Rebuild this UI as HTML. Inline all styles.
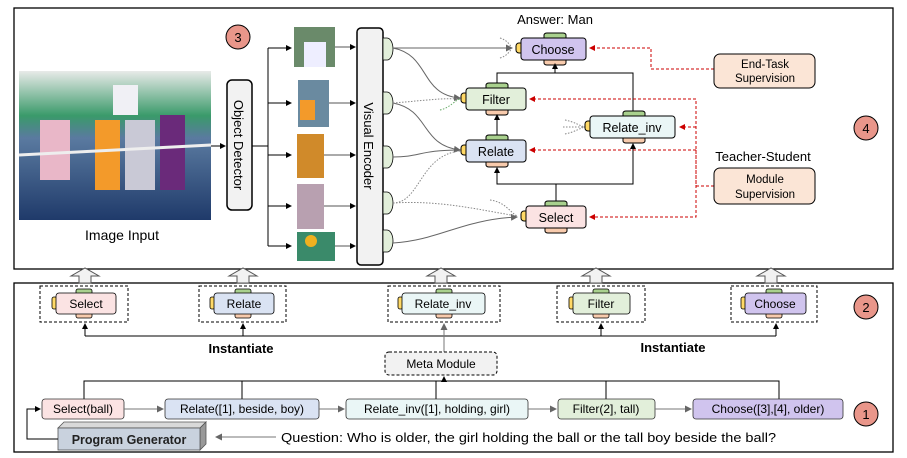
<!DOCTYPE html>
<html><head><meta charset="utf-8"><style>
html,body{margin:0;padding:0;background:#fff}
svg{display:block;font-family:"Liberation Sans",sans-serif}
</style></head><body>
<svg width="907" height="458" viewBox="0 0 907 458" xmlns="http://www.w3.org/2000/svg">
<defs>
<marker id="ab" markerWidth="6" markerHeight="6" refX="5" refY="3" orient="auto" markerUnits="userSpaceOnUse"><path d="M0,0 L6,3 L0,6z" fill="#000"/></marker>
<marker id="ag" markerWidth="7" markerHeight="7" refX="6" refY="3.5" orient="auto" markerUnits="userSpaceOnUse"><path d="M0,0 L7,3.5 L0,7z" fill="#666"/></marker>
<marker id="ar" markerWidth="6" markerHeight="6" refX="5" refY="3" orient="auto" markerUnits="userSpaceOnUse"><path d="M0,0 L6,3 L0,6z" fill="#c00"/></marker>
<linearGradient id="img" x1="0" y1="0" x2="0" y2="1"><stop offset="0" stop-color="#e8eae8"/><stop offset="0.3" stop-color="#3a9a6a"/><stop offset="0.45" stop-color="#5a7aa0"/><stop offset="1" stop-color="#1f3a6a"/></linearGradient>
</defs>

<rect x="14" y="8" width="879" height="261" fill="none" stroke="#000" stroke-width="1.3"/>
<rect x="14" y="283" width="879" height="169" fill="none" stroke="#000" stroke-width="1.3"/>

<rect x="19" y="71" width="192" height="149" fill="url(#img)"/>
<rect x="40" y="120" width="30" height="60" fill="#e9b7c8"/>
<rect x="95" y="120" width="25" height="70" fill="#f39a2a"/>
<rect x="125" y="120" width="30" height="70" fill="#c9c9d6"/>
<rect x="160" y="115" width="25" height="75" fill="#6a2a7a"/>
<rect x="113" y="85" width="25" height="30" fill="#f0f0f5"/>
<line x1="19" y1="155" x2="211" y2="145" stroke="#eee" stroke-width="3"/>
<text x="122" y="240" font-size="14" text-anchor="middle">Image Input</text>
<line x1="211" y1="146" x2="225" y2="146" stroke="#000" marker-end="url(#ab)"/>

<rect x="227" y="80" width="25" height="130" rx="5" fill="#f2f2f2" stroke="#000" stroke-width="1.5"/>
<text transform="translate(234,145) rotate(90)" font-size="13" text-anchor="middle">Object Detector</text>
<line x1="252" y1="146" x2="268" y2="146" stroke="#000"/>
<line x1="268" y1="48" x2="268" y2="246" stroke="#000"/>
<g stroke="#000">
<line x1="268" y1="48" x2="291" y2="48" marker-end="url(#ab)"/>
<line x1="268" y1="103" x2="291" y2="103" marker-end="url(#ab)"/>
<line x1="268" y1="155" x2="291" y2="155" marker-end="url(#ab)"/>
<line x1="268" y1="206" x2="291" y2="206" marker-end="url(#ab)"/>
<line x1="268" y1="246" x2="291" y2="246" marker-end="url(#ab)"/>
</g>
<circle cx="238" cy="37" r="12" fill="#e9968a" stroke="#000"/>
<text x="238" y="42" font-size="13" text-anchor="middle">3</text>

<rect x="294" y="27" width="41" height="40" fill="#6a8a6a"/><rect x="304" y="42" width="22" height="25" fill="#eef"/>
<rect x="298" y="80" width="31" height="47" fill="#6a8aa0"/><rect x="300" y="100" width="15" height="20" fill="#f39a2a"/>
<rect x="297" y="134" width="27" height="44" fill="#d08a2a"/>
<rect x="297" y="184" width="27" height="45" fill="#b8a0b0"/>
<rect x="297" y="232" width="38" height="29" fill="#3a8a6a"/><circle cx="311" cy="241" r="6" fill="#f0b020"/>
<g stroke="#555">
<line x1="335" y1="47" x2="355" y2="47" marker-end="url(#ab)"/>
<line x1="329" y1="103" x2="355" y2="103" marker-end="url(#ab)"/>
<line x1="324" y1="155" x2="355" y2="155" marker-end="url(#ab)"/>
<line x1="324" y1="206" x2="355" y2="206" marker-end="url(#ab)"/>
<line x1="335" y1="246" x2="355" y2="246" marker-end="url(#ab)"/>
</g>

<rect x="357" y="28" width="26" height="237" rx="4" fill="#f2f2f2" stroke="#000" stroke-width="1.5"/>
<text transform="translate(364,146) rotate(90)" font-size="13" text-anchor="middle">Visual Encoder</text>
<g fill="#e2efda" stroke="#000" stroke-width="0.8">
<path d="M383,38 h4 a6,11 0 0 1 0,22 h-4z"/>
<path d="M383,92 h4 a6,11 0 0 1 0,22 h-4z"/>
<path d="M383,146 h4 a6,11 0 0 1 0,22 h-4z"/>
<path d="M383,192 h4 a6,11 0 0 1 0,22 h-4z"/>
<path d="M383,230 h4 a6,11 0 0 1 0,22 h-4z"/>
</g>
<g fill="none" stroke="#666" stroke-width="1">
<path d="M393,48 L512,48" marker-end="url(#ag)"/>
<path d="M393,48 C430,55 420,95 460,98" marker-end="url(#ag)"/>
<path d="M393,103 C430,110 420,145 460,150" marker-end="url(#ag)"/>
<path d="M393,157 C420,157 420,150 460,150"/>
<path d="M393,243 C440,240 460,220 517,217" marker-end="url(#ag)"/>
</g>
<g fill="none" stroke="#888" stroke-width="1" stroke-dasharray="1.5,1.5">
<path d="M393,103 C430,100 440,98 460,99"/>
<path d="M393,203 C420,203 420,155 460,151"/>
<path d="M393,203 C440,200 480,210 517,216"/>
<path d="M440,110 C450,108 455,100 460,99" stroke="#6a6"/>
<path d="M490,200 C505,202 510,212 517,216"/>
<path d="M500,38 C507,40 510,45 512,48"/><path d="M500,58 C507,56 510,51 512,48"/>
<path d="M565,120 C575,122 580,126 585,127"/><path d="M565,134 C575,132 580,128 585,127"/><path d="M563,127 L585,127"/>
</g>

<g stroke="#000" stroke-width="1">
<path d="M544,38 v-3 a3,2 0 0 1 3,-2 h16 a3,2 0 0 1 3,2 v3z" fill="#a9d18e"/>
<path d="M544,60 v3 a3,2 0 0 0 3,2 h16 a3,2 0 0 0 3,-2 v-3z" fill="#f8cbad"/>
<path d="M521,43 h-2 a3,3 0 0 0 -3,3 v4 a3,3 0 0 0 3,3 h2z" fill="#ffd966"/>
<rect x="521" y="38" width="65" height="22" rx="3" fill="#d0c4ee"/>
<path d="M486,88 v-3 a3,2 0 0 1 3,-2 h16 a3,2 0 0 1 3,2 v3z" fill="#a9d18e"/>
<path d="M486,110 v3 a3,2 0 0 0 3,2 h16 a3,2 0 0 0 3,-2 v-3z" fill="#f8cbad"/>
<path d="M466,93 h-2 a3,3 0 0 0 -3,3 v4 a3,3 0 0 0 3,3 h2z" fill="#ffd966"/>
<rect x="466" y="88" width="60" height="22" rx="3" fill="#e2efda"/>
<path d="M486,140 v-3 a3,2 0 0 1 3,-2 h16 a3,2 0 0 1 3,2 v3z" fill="#a9d18e"/>
<path d="M486,162 v3 a3,2 0 0 0 3,2 h16 a3,2 0 0 0 3,-2 v-3z" fill="#f8cbad"/>
<path d="M466,145 h-2 a3,3 0 0 0 -3,3 v4 a3,3 0 0 0 3,3 h2z" fill="#ffd966"/>
<rect x="466" y="140" width="60" height="22" rx="3" fill="#dae3f3"/>
<path d="M545,206 v-3 a3,2 0 0 1 3,-2 h16 a3,2 0 0 1 3,2 v3z" fill="#a9d18e"/>
<path d="M545,228 v3 a3,2 0 0 0 3,2 h16 a3,2 0 0 0 3,-2 v-3z" fill="#f8cbad"/>
<path d="M526,211 h-2 a3,3 0 0 0 -3,3 v4 a3,3 0 0 0 3,3 h2z" fill="#ffd966"/>
<rect x="526" y="206" width="60" height="22" rx="3" fill="#fbe3e3"/>
<path d="M623,116 v-3 a3,2 0 0 1 3,-2 h16 a3,2 0 0 1 3,2 v3z" fill="#a9d18e"/>
<path d="M623,138 v3 a3,2 0 0 0 3,2 h16 a3,2 0 0 0 3,-2 v-3z" fill="#f8cbad"/>
<path d="M590,121 h-2 a3,3 0 0 0 -3,3 v4 a3,3 0 0 0 3,3 h2z" fill="#ffd966"/>
<rect x="590" y="116" width="85" height="22" rx="3" fill="#eaf6f6"/>
</g>
<g font-size="12.5" text-anchor="middle">
<text x="553" y="54">Choose</text>
<text x="496" y="104">Filter</text>
<text x="496" y="156">Relate</text>
<text x="556" y="222">Select</text>
<text x="632" y="132">Relate_inv</text>
</g>
<text x="555" y="24" font-size="13" text-anchor="middle">Answer: Man</text>

<g fill="none" stroke="#000" stroke-width="1">
<path d="M497,83 V73 H633 V111"/>
<line x1="555" y1="73" x2="555" y2="64" marker-end="url(#ab)"/>
<line x1="497" y1="135" x2="497" y2="115" marker-end="url(#ab)"/>
<path d="M556,201 V184 H497 V168" marker-end="url(#ab)"/>
<path d="M556,184 H633 V144" marker-end="url(#ab)"/>
</g>

<g fill="none" stroke="#c00" stroke-width="1" stroke-dasharray="3,2">
<path d="M714,69 H651 V48 H590" marker-end="url(#ar)"/>
<path d="M714,186 H696 V99 H530" marker-end="url(#ar)"/>
<path d="M696,127 H680" marker-end="url(#ar)"/>
<path d="M696,150 H530" marker-end="url(#ar)"/>
<path d="M696,150 V217 H590" marker-end="url(#ar)"/>
</g>
<rect x="714" y="54" width="101" height="34" rx="6" fill="#fbe5d6" stroke="#000"/>
<text x="765" y="68" font-size="11.5" text-anchor="middle">End-Task</text>
<text x="765" y="82" font-size="11.5" text-anchor="middle">Supervision</text>
<text x="763" y="161" font-size="13" text-anchor="middle">Teacher-Student</text>
<rect x="714" y="168" width="101" height="36" rx="6" fill="#fbe5d6" stroke="#000"/>
<text x="765" y="183" font-size="11.5" text-anchor="middle">Module</text>
<text x="765" y="198" font-size="11.5" text-anchor="middle">Supervision</text>
<circle cx="866" cy="128" r="12" fill="#e9968a" stroke="#000"/>
<text x="866" y="133" font-size="13" text-anchor="middle">4</text>

<g fill="#f2f2f2" stroke="#555" stroke-width="1">
<path d="M79,283 V276 H71 L85,268 L99,276 H91 V283z"/>
<path d="M237,283 V276 H229 L243,268 L257,276 H249 V283z"/>
<path d="M435,283 V276 H427 L441,268 L455,276 H447 V283z"/>
<path d="M590,283 V276 H582 L596,268 L610,276 H602 V283z"/>
<path d="M765,283 V276 H757 L771,268 L785,276 H777 V283z"/>
</g>

<g fill="none" stroke="#000" stroke-dasharray="3,2">
<rect x="40" y="286" width="88" height="36"/>
<rect x="199" y="286" width="87" height="36"/>
<rect x="388" y="286" width="112" height="36"/>
<rect x="557" y="286" width="88" height="36"/>
<rect x="731" y="286" width="86" height="36"/>
</g>
<g stroke="#000" stroke-width="0.8">
<rect x="76" y="289" width="16" height="6" rx="2" fill="#a9d18e"/><rect x="76" y="312" width="16" height="6" rx="2" fill="#f8cbad"/>
<rect x="52" y="297" width="5" height="12" rx="2" fill="#ffd966"/>
<rect x="56" y="293" width="60" height="21" rx="3" fill="#fbe3e3"/>
<rect x="235" y="289" width="16" height="6" rx="2" fill="#a9d18e"/><rect x="235" y="312" width="16" height="6" rx="2" fill="#f8cbad"/>
<rect x="210" y="297" width="5" height="12" rx="2" fill="#ffd966"/>
<rect x="214" y="293" width="60" height="21" rx="3" fill="#dae3f3"/>
<rect x="436" y="289" width="16" height="6" rx="2" fill="#a9d18e"/><rect x="436" y="312" width="16" height="6" rx="2" fill="#f8cbad"/>
<rect x="398" y="297" width="5" height="12" rx="2" fill="#ffd966"/>
<rect x="402" y="293" width="83" height="21" rx="3" fill="#eaf6f6"/>
<rect x="593" y="289" width="16" height="6" rx="2" fill="#a9d18e"/><rect x="593" y="312" width="16" height="6" rx="2" fill="#f8cbad"/>
<rect x="569" y="297" width="5" height="12" rx="2" fill="#ffd966"/>
<rect x="573" y="293" width="57" height="21" rx="3" fill="#e2efda"/>
<rect x="766" y="289" width="16" height="6" rx="2" fill="#a9d18e"/><rect x="766" y="312" width="16" height="6" rx="2" fill="#f8cbad"/>
<rect x="741" y="297" width="5" height="12" rx="2" fill="#ffd966"/>
<rect x="745" y="293" width="61" height="21" rx="3" fill="#d0c4ee"/>
</g>
<g font-size="12" text-anchor="middle">
<text x="86" y="308">Select</text>
<text x="244" y="308">Relate</text>
<text x="443" y="308">Relate_inv</text>
<text x="601" y="308">Filter</text>
<text x="775" y="308">Choose</text>
</g>
<circle cx="866" cy="307" r="12" fill="#e9968a" stroke="#000"/>
<text x="866" y="312" font-size="13" text-anchor="middle">2</text>

<g fill="none" stroke="#000">
<path d="M85,336 H776"/>
<line x1="85" y1="336" x2="85" y2="324" marker-end="url(#ab)"/>
<line x1="243" y1="336" x2="243" y2="324" marker-end="url(#ab)"/>
<line x1="444" y1="352" x2="444" y2="324" stroke="#777" marker-end="url(#ag)"/>
<line x1="601" y1="336" x2="601" y2="324" marker-end="url(#ab)"/>
<line x1="776" y1="336" x2="776" y2="324" marker-end="url(#ab)"/>
</g>
<text x="241" y="353" font-size="13" font-weight="bold" text-anchor="middle">Instantiate</text>
<text x="673" y="352" font-size="13" font-weight="bold" text-anchor="middle">Instantiate</text>
<rect x="385" y="352" width="112" height="23" rx="4" fill="#f2f2f2" stroke="#000" stroke-dasharray="3,2"/>
<text x="441" y="368" font-size="12" text-anchor="middle">Meta Module</text>

<g fill="none" stroke="#000">
<path d="M84,399 V381 H779 V399"/>
<line x1="242" y1="381" x2="242" y2="399"/>
<line x1="436" y1="381" x2="436" y2="399"/>
<line x1="606" y1="381" x2="606" y2="399"/>
<line x1="444" y1="381" x2="444" y2="377" marker-end="url(#ab)"/>
</g>
<g stroke="#333" stroke-width="0.8">
<rect x="42" y="399" width="82" height="20" rx="3" fill="#fbe3e3"/>
<rect x="165" y="399" width="154" height="20" rx="3" fill="#dae3f3"/>
<rect x="346" y="399" width="182" height="20" rx="3" fill="#eaf6f6"/>
<rect x="558" y="399" width="97" height="20" rx="3" fill="#e2efda"/>
<rect x="693" y="399" width="150" height="20" rx="3" fill="#d0c4ee"/>
</g>
<g stroke="#777" fill="none">
<line x1="124" y1="409" x2="163" y2="409" marker-end="url(#ag)"/>
<line x1="319" y1="409" x2="344" y2="409" marker-end="url(#ag)"/>
<line x1="528" y1="409" x2="556" y2="409" marker-end="url(#ag)"/>
<line x1="655" y1="409" x2="691" y2="409" marker-end="url(#ag)"/>
</g>
<g font-size="12" text-anchor="middle">
<text x="83" y="413">Select(ball)</text>
<text x="242" y="413">Relate([1], beside, boy)</text>
<text x="437" y="413">Relate_inv([1], holding, girl)</text>
<text x="606" y="413">Filter(2], tall)</text>
<text x="768" y="413">Choose([3],[4], older)</text>
</g>
<circle cx="866" cy="414" r="12" fill="#e9968a" stroke="#000"/>
<text x="866" y="419" font-size="13" text-anchor="middle">1</text>

<path d="M58,428 L64,422 H206 L200,428z" fill="#d9d9d9" stroke="#555" stroke-width="0.8"/>
<path d="M200,428 L206,422 V444 L200,450z" fill="#999" stroke="#555" stroke-width="0.8"/>
<rect x="58" y="428" width="142" height="22" fill="#c9d2de" stroke="#555" stroke-width="0.8"/>
<text x="129" y="444" font-size="12.5" font-weight="bold" text-anchor="middle" fill="#222">Program Generator</text>
<path d="M58,439 H27 V409 H40" fill="none" stroke="#000" marker-end="url(#ab)"/>
<line x1="276" y1="437" x2="216" y2="437" stroke="#777" marker-end="url(#ag)"/>
<text x="281" y="442" font-size="13" textLength="495" lengthAdjust="spacingAndGlyphs">Question: Who is older, the girl holding the ball or the tall boy beside the ball?</text>
</svg>
</body></html>
